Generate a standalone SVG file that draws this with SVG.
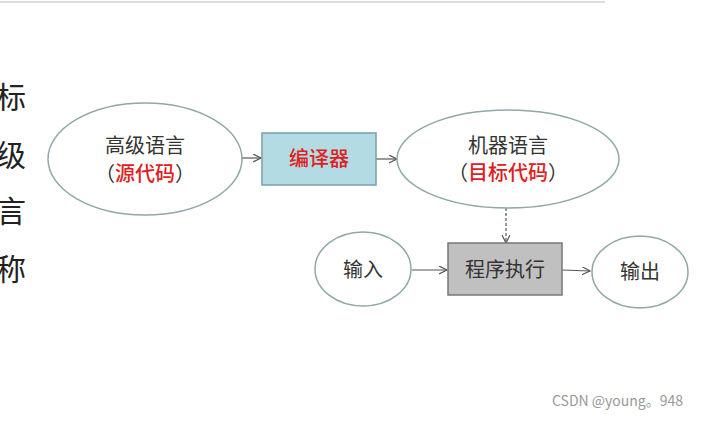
<svg xmlns="http://www.w3.org/2000/svg" width="720" height="421" viewBox="0 0 720 421">
<style>
.n{fill:#fff;stroke:#8fa8a8;stroke-width:1.5}
.t{font-family:"Noto Sans CJK SC",sans-serif;font-size:20px;fill:#333;text-anchor:middle}
.r{fill:#e02020;font-weight:500}
.c{stroke:#555;stroke-width:1.2;fill:none;marker-end:url(#a)}
</style>
<defs><marker id="a" markerWidth="10" markerHeight="10" refX="8" refY="4" orient="auto" markerUnits="userSpaceOnUse"><path d="M0,0 L8,4 L0,8" fill="none" stroke="#555" stroke-width="1.2"/></marker></defs>
<rect width="720" height="421" fill="#fff"/>
<line x1="0" y1="2" x2="605" y2="2" stroke="#ddd" stroke-width="2"/>
<g font-family="Noto Sans CJK SC,sans-serif" font-size="30" fill="#222">
<text x="-4" y="108">标</text><text x="-4" y="166">级</text><text x="-4" y="222">言</text><text x="-4" y="280">称</text>
</g>
<g id="edges">
<line class="c" x1="242" y1="158" x2="261" y2="158"/>
<line class="c" x1="376" y1="159" x2="397" y2="159"/>
<line class="c" x1="506" y1="208" x2="506" y2="243" stroke-dasharray="3,2"/>
<line class="c" x1="412" y1="270" x2="447" y2="270"/>
<line class="c" x1="562" y1="270" x2="590" y2="271"/>
</g>
<g id="n1"><ellipse class="n" cx="145" cy="159" rx="97" ry="56"/><text class="t" x="145" y="153">高级语言</text><text class="t" x="145" y="181">（<tspan class="r">源代码</tspan>）</text></g>
<g id="n2"><rect x="262" y="133" width="114" height="52" fill="#b2dbe3" stroke="#7a9fa8" stroke-width="1.5"/><text class="t r" x="319" y="166">编译器</text></g>
<g id="n3"><ellipse class="n" cx="508" cy="159" rx="111" ry="49"/><text class="t" x="508" y="153">机器语言</text><text class="t" x="508" y="180">（<tspan class="r">目标代码</tspan>）</text></g>
<g id="n4"><ellipse class="n" cx="363" cy="269" rx="48" ry="37"/><text class="t" x="363" y="277">输入</text></g>
<g id="n5"><rect x="448" y="243" width="114" height="52" fill="#c0c0c0" stroke="#777" stroke-width="1.5"/><text class="t" x="505" y="277">程序执行</text></g>
<g id="n6"><ellipse class="n" cx="640" cy="272" rx="48" ry="36"/><text class="t" x="640" y="279">输出</text></g>
<text x="552" y="406" font-family="Noto Sans CJK SC,sans-serif" font-size="14" fill="#999">CSDN @young。948</text>
</svg>
